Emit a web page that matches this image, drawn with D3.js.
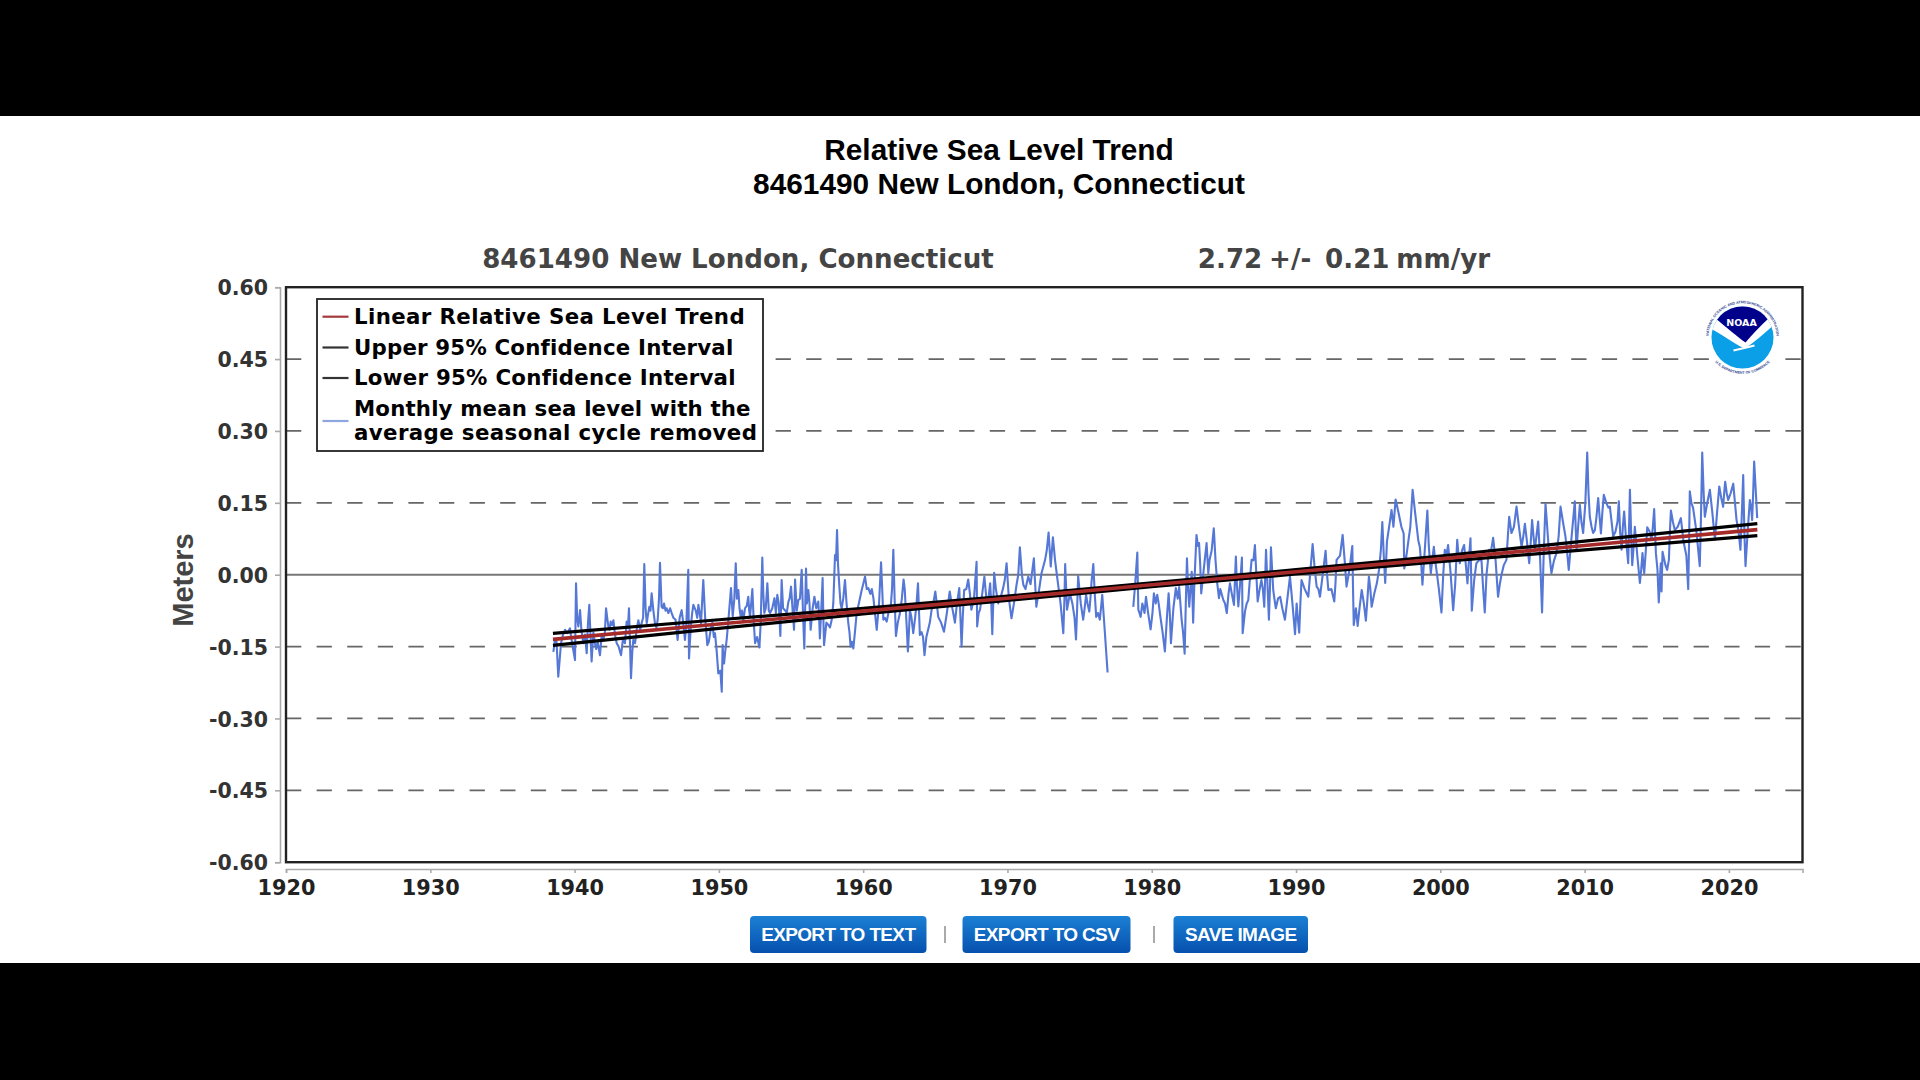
<!DOCTYPE html>
<html>
<head>
<meta charset="utf-8">
<title>Relative Sea Level Trend</title>
<script src="https://cdn.jsdelivr.net/npm/d3@7"></script>
<style>
  html, body { margin: 0; padding: 0; background: #000; }
  svg { display: block; }
  text { font-family: "DejaVu Sans", sans-serif; font-weight: bold; }
</style>
</head>
<body>
<svg id="chart" width="1920" height="1080"></svg>
<script>
// tick labels
const yearTicks = [1920, 1930, 1940, 1950, 1960, 1970, 1980, 1990, 2000, 2010, 2020];
const meterTicks = [0.60, 0.45, 0.30, 0.15, 0.00, -0.15, -0.30, -0.45, -0.60];
const dashedLevels = [0.45, 0.30, 0.15, -0.15, -0.30, -0.45];

// text
const titleLines = ["Relative Sea Level Trend", "8461490 New London, Connecticut"];
const stationName = "8461490 New London, Connecticut";
const stationRate = "2.72 +/-  0.21 mm/yr";
const buttonLabels = ["EXPORT TO TEXT", "EXPORT TO CSV", "SAVE IMAGE"];
const legendLabels = [
  ["Linear Relative Sea Level Trend"],
  ["Upper 95% Confidence Interval"],
  ["Lower 95% Confidence Interval"],
  ["Monthly mean sea level with the", "average seasonal cycle removed"]
];

// trend and confidence interval, read at a few years
const trendYears = [1938.5, 1950, 1960, 1970, 1980, 1990, 2000, 2010, 2021.97];
const trendMean = [-0.135, -0.103, -0.076, -0.049, -0.021, 0.006, 0.033, 0.061, 0.094];
const trendUpper = [-0.1225, -0.094, -0.070, -0.0445, -0.017, 0.0105, 0.039, 0.070, 0.1065];
const trendLower = [-0.1475, -0.112, -0.082, -0.0535, -0.025, 0.0015, 0.027, 0.052, 0.0815];

// monthly mean sea level [year, meters]. null = no data (1977-78)
const monthlyLevel = [
  [1938.53,-.161],[1938.64,-.136],[1938.87,-.213],[1939.06,-.143],[1939.34,-.115],[1939.5,-.122],[1939.68,-.112],[1939.87,-.150],
  [1940.03,-.178],[1940.1,-.018],[1940.26,-.108],[1940.38,-.074],[1940.61,-.143],[1940.84,-.164],[1941.02,-.063],[1941.18,-.181],
  [1941.41,-.143],[1941.6,-.14],[1941.76,-.168],[1941.99,-.136],[1942.18,-.07],[1942.34,-.108],[1942.5,-.098],[1942.69,-.095],
  [1942.92,-.143],[1943.22,-.168],[1943.49,-.143],[1943.61,-.098],[1943.77,-.07],[1943.91,-.216],[1944.07,-.136],[1944.19,-.143],
  [1944.42,-.095],[1944.65,-.101],[1944.83,.022],[1945,-.101],[1945.18,-.067],[1945.34,-.039],[1945.57,-.101],[1945.76,-.094],
  [1945.92,.025],[1946.03,-.067],[1946.38,-.070],[1946.73,-.08],[1947,-.094],[1947.14,-.136],[1947.42,-.074],[1947.65,-.136],
  [1947.88,.01],[1947.93,-.175],[1948.23,-.063],[1948.58,-.063],[1948.76,-.101],[1948.92,-.011],[1949.2,-.147],[1949.43,-.115],
  [1949.73,-.122],[1949.96,-.206],[1950.2,-.244],[1950.26,-.147],[1950.36,-.185],[1950.54,-.136],[1950.84,-.028],[1950.96,-.087],
  [1951.17,.024],[1951.35,-.032],[1951.51,-.087],[1951.81,-.07],[1952.04,-.046],[1952.16,-.087],[1952.32,-.03],[1952.51,-.143],
  [1952.81,-.152],[1953.01,.036],[1953.15,-.08],[1953.36,-.018],[1953.55,-.08],[1953.85,-.049],[1954.05,-.042],[1954.26,-.128],
  [1954.35,-.011],[1954.58,-.074],[1954.82,-.056],[1955,-.025],[1955.21,-.115],[1955.28,-.01],[1955.51,-.053],[1955.74,.01],
  [1955.92,-.154],[1956.04,.013],[1956.2,-.032],[1956.36,-.115],[1956.62,-.046],[1956.89,-.056],[1957,-.133],[1957.19,-.007],
  [1957.29,-.147],[1957.59,-.105],[1957.82,-.094],[1958.05,.041],[1958.19,.093],[1958.35,-.025],[1958.51,-.07],[1958.74,-.011],
  [1958.97,-.101],[1959.13,-.15],[1959.32,-.154],[1959.55,-.08],[1959.9,-.032],[1960.13,-.004],[1960.36,-.028],[1960.71,-.049],
  [1960.94,-.115],[1961.24,.026],[1961.4,-.094],[1961.63,-.098],[1961.91,-.067],[1962.09,.052],[1962.27,-.128],[1962.55,-.08],
  [1962.8,-.01],[1962.95,-.07],[1963.1,-.16],[1963.24,-.074],[1963.47,-.122],[1963.8,-.018],[1963.93,-.126],[1964.25,-.168],
  [1964.5,-.115],[1964.74,-.074],[1965,-.035],[1965.2,-.088],[1965.6,-.119],[1966,-.035],[1966.36,-.1],[1966.66,-.028],
  [1966.82,-.15],[1967,-.032],[1967.28,-.01],[1967.5,-.073],[1967.86,.027],[1967.9,-.108],[1968.1,-.073],[1968.4,-.004],
  [1968.55,-.053],[1968.8,-.018],[1968.95,-.124],[1969.08,.004],[1969.36,-.06],[1969.7,-.028],[1969.94,.024],[1970.28,-.091],
  [1970.63,-.021],[1970.86,.057],[1971.1,-.021],[1971.44,-.004],[1971.83,.034],[1972,-.067],[1972.36,.003],[1972.85,.088],
  [1973,.017],[1973.15,.078],[1973.5,-.018],[1973.87,-.122],[1974,.022],[1974.13,-.073],[1974.33,-.039],[1974.75,-.135],
  [1974.9,-.003],[1975.25,-.094],[1975.45,-.042],[1975.67,-.077],[1975.83,-.014],[1975.95,.022],[1976.15,-.088],[1976.4,-.094],
  [1976.57,-.042],[1976.94,-.204],[1977.5,null],[1978.72,-.067],[1979,.046],[1979.07,-.073],[1979.23,-.088],[1979.6,-.046],
  [1979.92,-.114],[1980.15,-.039],[1980.38,-.042],[1980.6,-.088],[1980.91,-.16],[1981.17,-.039],[1981.33,-.143],[1981.67,-.028],
  [1981.9,-.026],[1982.07,-.094],[1982.28,-.165],[1982.44,.034],[1982.6,-.067],[1982.77,.006],[1982.87,-.1],[1983.1,.083],
  [1983.28,.066],[1983.43,-.039],[1983.8,.066],[1983.92,.003],[1984.3,.097],[1984.54,-.018],[1984.66,-.049],[1984.96,-.053],
  [1985.2,-.08],[1985.42,-.018],[1985.7,-.063],[1985.83,.038],[1986,-.066],[1986.25,.036],[1986.3,-.122],
  [1986.46,-.077],[1986.69,-.053],[1986.92,.031],[1987.15,.062],[1987.34,-.056],[1987.6,-.011],[1987.8,-.067],[1987.92,.052],
  [1988.12,-.094],[1988.26,.057],[1988.42,-.032],[1988.6,-.07],[1988.9,-.046],[1989.23,-.094],[1989.58,-.004],[1989.93,-.124],
  [1990.04,-.06],[1990.22,-.121],[1990.38,-.011],[1990.85,-.046],[1991.15,.064],[1991.43,-.025],[1991.66,-.046],[1992.05,.05],
  [1992.24,-.032],[1992.65,-.056],[1992.81,.031],[1993.23,.083],[1993.5,-.025],[1993.9,.06],[1994,-.105],[1994.27,-.107],
  [1994.55,-.032],[1994.84,-.096],[1995.05,-.004],[1995.24,-.067],[1995.6,-.018],[1995.88,.052],[1995.98,.11],[1996.18,-.017],
  [1996.3,.069],[1996.62,.135],[1996.9,.157],[1997.46,.086],[1997.5,.013],[1997.78,.069],[1998.08,.177],[1998.47,.072],
  [1998.58,.058],[1998.76,-.021],[1999.1,.134],[1999.34,.003],[1999.55,.058],[1999.73,.01],[2000.08,-.079],[2000.31,.052],
  [2000.54,.062],[2000.89,-.074],[2001.17,.073],[2001.35,.024],[2001.65,.062],[2001.88,-.018],[2002.09,.076],[2002.18,-.075],
  [2002.5,.024],[2002.85,.031],[2003.08,-.079],[2003.38,.052],[2003.66,.077],[2004,-.046],[2004.24,.0],[2004.58,.031],
  [2004.77,.121],[2004.93,.087],[2005.28,.142],[2005.63,.058],[2005.86,.106],[2006.16,.024],[2006.36,.114],[2006.55,.052],
  [2006.78,.111],[2007.05,-.079],[2007.29,.148],[2007.7,.003],[2008.05,.045],[2008.33,.142],[2008.67,.08],[2008.9,.01],
  [2009.32,.153],[2009.44,.05],[2009.67,.146],[2009.9,.087],[2010.18,.255],[2010.36,.121],[2010.59,.087],
  [2010.71,.093],[2010.94,.16],[2011.13,.086],[2011.33,.167],[2011.75,.142],[2011.98,.08],[2012.28,.111],[2012.37,.153],
  [2012.56,.052],[2012.74,.132],[2013.02,.024],[2013.14,.177],[2013.3,.02],[2013.48,.1],[2013.83,-.017],[2014.01,.045],
  [2014.13,.003],[2014.34,.099],[2014.64,.073],[2014.82,.137],[2014.94,.045],[2015.14,-.058],[2015.28,.024],[2015.4,.048],
  [2015.33,-.035],[2015.84,.031],[2015.98,.134],[2016.25,.093],[2016.67,.118],[2017.18,-.03],[2017.29,.174],[2017.52,.139],
  [2017.98,.018],[2018.15,.255],[2018.33,.121],[2018.68,.177],[2019.03,.073],[2019.33,.184],[2019.6,.142],[2019.74,.194],
  [2019.95,.156],[2020.3,.19],[2020.53,.114],[2020.8,.052],[2020.99,.208],[2021.15,.018],[2021.45,.156],[2021.61,.114],
  [2021.75,.236],[2021.96,.118],
  // months between the peaks, rougher readings from the dense part of the band
  [1938.75,-.14],[1939.2,-.125],[1939.76,-.13],[1940.18,-.09],[1940.47,-.115],[1940.72,-.125],[1940.93,-.1],[1941.1,-.125],
  [1941.3,-.12],[1941.5,-.155],[1941.88,-.125],[1942.1,-.12],[1942.26,-.09],[1942.42,-.115],[1942.6,-.105],[1942.8,-.125],
  [1943.05,-.15],[1943.35,-.135],[1943.7,-.11],[1944,-.16],[1944.3,-.115],[1944.55,-.115],[1944.75,-.09],[1944.92,-.07],
  [1945.08,-.085],[1945.26,-.075],[1945.46,-.075],[1945.67,-.11],[1945.85,-.05],[1946.12,-.07],[1946.2,-.06],[1946.3,-.075],
  [1946.5,-.08],[1946.62,-.07],[1946.85,-.09],[1947.07,-.115],[1947.28,-.09],[1947.53,-.1],[1947.75,-.1],[1948.05,-.11],
  [1948.15,-.08],[1948.4,-.075],[1948.5,-.09],[1948.67,-.08],[1949.05,-.09],[1949.3,-.14],[1949.55,-.1],[1949.65,-.13],
  [1949.85,-.16],[1950.1,-.2],[1950.3,-.17],[1950.44,-.16],[1950.7,-.08],[1951.07,-.05],[1951.25,-.05],[1951.43,-.07],
  [1951.6,-.075],[1951.7,-.095],[1951.93,-.065],[1952.1,-.075],[1952.24,-.06],[1952.42,-.1],[1952.65,-.13],[1952.9,-.1],
  [1953.08,-.04],[1953.25,-.07],[1953.46,-.075],[1953.7,-.07],[1953.95,-.08],[1954.15,-.06],[1954.45,-.07],[1954.7,-.08],
  [1954.9,-.05],[1955.1,-.07],[1955.4,-.075],[1955.62,-.05],[1955.83,-.08],[1956.1,-.06],[1956.28,-.06],[1956.5,-.07],
  [1956.75,-.07],[1956.95,-.09],[1957.1,-.07],[1957.24,-.09],[1957.45,-.1],[1957.7,-.11],[1957.93,-.06],[1958.12,.03],
  [1958.26,.02],[1958.43,-.06],[1958.62,-.05],[1958.85,-.06],[1959.05,-.12],[1959.22,-.14],[1959.43,-.12],[1959.7,-.06],
  [1960,-.02],[1960.25,-.03],[1960.5,-.04],[1960.6,-.03],[1960.82,-.08],[1961.1,-.06],[1961.32,-.03],[1961.5,-.09],
  [1961.75,-.08],[1962,-.03],[1962.18,-.05],[1962.4,-.1],[1962.68,-.05],[1962.88,-.03],[1963.02,-.11],[1963.17,-.12],
  [1963.35,-.09],[1963.6,-.09],[1963.7,-.06],[1964.05,-.12],[1964.15,-.13],[1964.38,-.13],[1964.62,-.1],[1964.86,-.06],
  [1965.1,-.06],[1965.4,-.1],[1965.8,-.08],[1966.18,-.07],[1966.5,-.06],[1966.73,-.08],[1966.9,-.09],[1967.15,-.03],
  [1967.4,-.04],[1967.68,-.05],[1968,-.08],[1968.25,-.04],[1968.48,-.03],[1968.68,-.05],[1968.88,-.06],[1969.2,-.03],
  [1969.5,-.05],[1969.82,-.01],[1970.1,-.05],[1970.45,-.06],[1970.75,0],[1971,0],[1971.25,-.03],[1971.6,-.02],
  [1971.92,-.02],[1972.2,-.03],[1972.6,.03],[1972.72,.05],[1973.3,.03],[1973.68,-.06],[1973.95,-.05],[1974.07,-.03],
  [1974.5,-.06],[1974.65,-.09],[1974.83,-.07],[1975.08,-.06],[1975.35,-.07],[1975.55,-.06],[1975.75,-.05],[1976.05,-.04],
  [1976.28,-.08],[1976.48,-.07],[1976.75,-.12],[1978.85,-.02],[1979.15,-.08],[1979.35,-.06],[1979.5,-.08],[1979.75,-.08],
  [1980.05,-.08],[1980.28,-.06],[1980.48,-.06],[1980.75,-.12],[1981.05,-.09],[1981.25,-.08],[1981.5,-.07],[1981.8,-.05],
  [1982.17,-.12],[1982.36,-.06],[1982.52,-.03],[1982.68,-.03],[1982.95,-.02],[1983.2,.06],[1983.36,.02],[1983.6,.01],
  [1984,.03],[1984.15,.05],[1984.42,.03],[1984.75,-.03],[1985.08,-.06],[1985.32,-.04],[1985.55,-.04],[1985.9,-.02],
  [1986.12,-.02],[1986.58,-.06],[1986.8,-.01],[1987.05,.03],[1987.25,0],[1987.48,-.03],[1987.7,-.03],[1988.02,-.02],
  [1988.2,-.02],[1988.5,-.05],[1988.75,-.05],[1989.05,-.07],[1989.4,-.05],[1989.75,-.06],[1990.12,-.09],[1990.3,-.06],
  [1990.6,-.03],[1991,.01],[1991.3,.01],[1991.55,-.03],[1991.85,0],[1992.15,0],[1992.45,-.03],[1992.73,-.02],
  [1993.05,.04],[1993.37,.03],[1993.7,.01],[1993.95,-.03],[1994.15,-.07],[1994.4,-.07],[1994.7,-.06],[1994.95,-.05],
  [1995.15,-.03],[1995.42,-.04],[1995.75,.01],[1996.08,.04],[1996.45,.1],[1996.75,.1],[1997.1,.13],[1997.3,.1],
  [1997.65,.04],[1997.92,.1],[1998.25,.13],[1998.68,.02],[1998.92,.05],[1999.2,.06],[1999.44,.03],[1999.64,.03],
  [1999.9,-.03],[2000.2,0],[2000.42,.04],[2000.72,0],[2001.03,-.02],[2001.26,.04],[2001.5,.05],[2001.77,.02],
  [2002,.04],[2002.35,-.01],[2002.67,.03],[2002.97,-.03],[2003.2,0],[2003.52,.05],[2003.83,.03],[2004.12,-.02],
  [2004.4,.02],[2004.68,.08],[2005.1,.1],[2005.45,.1],[2005.75,.08],[2006,.07],[2006.25,.06],[2006.46,.08],
  [2006.66,.08],[2006.92,.03],[2007.17,.05],[2007.5,.06],[2007.88,.03],[2008.2,.08],[2008.5,.11],[2008.78,.05],
  [2009.1,.08],[2009.38,.1],[2009.55,.1],[2009.78,.11],[2010.05,.15],[2010.27,.17],[2010.48,.1],[2010.82,.12],
  [2011.04,.12],[2011.23,.13],[2011.5,.15],[2011.65,.14],[2011.87,.11],[2012.14,.09],[2012.46,.09],[2012.65,.1],
  [2012.88,.07],[2013.08,.1],[2013.22,.09],[2013.4,.06],[2013.65,.04],[2013.92,.01],[2014.07,.02],[2014.24,.05],
  [2014.5,.09],[2014.73,.1],[2014.88,.09],[2015.05,.01],[2015.2,-.02],[2015.6,.02],[2015.72,.01],[2015.91,.09],
  [2016.12,.11],[2016.45,.1],[2016.85,.07],[2017.05,.04],[2017.24,.07],[2017.4,.15],[2017.75,.09],[2018.05,.1],
  [2018.25,.17],[2018.5,.15],[2018.85,.13],[2019.18,.13],[2019.47,.16],[2019.67,.17],[2019.85,.17],[2020.12,.17],
  [2020.42,.15],[2020.67,.09],[2020.9,.13],[2021.07,.09],[2021.3,.09],[2021.54,.14],[2021.68,.17],[2021.87,.17]
].sort((a, b) => a[0] - b[0]);

const svg = d3.select("#chart");

// white page area between the black bars
svg.append("rect").attr("x", 0).attr("y", 116).attr("width", 1920).attr("height", 847).attr("fill", "#fff");

// scales
const x = d3.scaleLinear().domain([1920, 2025.1]).range([286, 1802.5]);
const y = d3.scaleLinear().domain([-0.6, 0.6]).range([862.2, 287.2]);

// titles
svg.selectAll(".title").data(titleLines).enter().append("text")
  .attr("class", "title")
  .attr("x", 999)
  .attr("y", (d, i) => 160 + i * 34)
  .attr("text-anchor", "middle")
  .style("font-family", "'Liberation Sans', sans-serif")
  .style("font-size", "29.8px")
  .attr("fill", "#000")
  .text(d => d);

svg.append("text").attr("x", 738).attr("y", 268).attr("text-anchor", "middle")
  .style("font-size", "26.1px").attr("fill", "#444").text(stationName);
svg.append("text").attr("x", 1344).attr("y", 268).attr("text-anchor", "middle")
  .style("font-size", "26.1px").style("word-spacing", "-2.2px").style("white-space", "pre")
  .attr("fill", "#444").text(stationRate);

// y axis title
svg.append("text")
  .attr("transform", "translate(193,580) rotate(-90)")
  .attr("text-anchor", "middle")
  .style("font-family", "'Liberation Sans', sans-serif")
  .style("font-size", "29px")
  .attr("fill", "#444")
  .text("Meters");

// grey axes, set a little off the frame
const xAxis = d3.axisBottom(x).tickValues(yearTicks).tickFormat(d3.format("d")).tickSize(4).tickPadding(7.5);
const yAxis = d3.axisLeft(y).tickValues(meterTicks).tickFormat(d => d.toFixed(2)).tickSize(5).tickPadding(7);

const gx = svg.append("g").attr("transform", "translate(0,869)").call(xAxis);
const gy = svg.append("g").attr("transform", "translate(280,0)").call(yAxis);
gx.selectAll("path, line").attr("stroke", "#aaa").attr("stroke-width", 1.6);
gy.selectAll("path, line").attr("stroke", "#aaa").attr("stroke-width", 1.6);
gx.selectAll("text").style("font-family", "'DejaVu Sans'").style("font-size", "20.8px").attr("fill", "#222");
gy.selectAll("text").style("font-family", "'DejaVu Sans'").style("font-size", "20.5px").attr("fill", "#333").attr("dy", "0.37em");

// grid lines
svg.selectAll(".level").data(dashedLevels).enter().append("line")
  .attr("class", "level")
  .attr("x1", x(1920)).attr("x2", x.range()[1])
  .attr("y1", d => y(d)).attr("y2", d => y(d))
  .attr("stroke", "#666").attr("stroke-width", 1.8)
  .attr("stroke-dasharray", "15.3 15.3");

svg.append("line")
  .attr("x1", x(1920)).attr("x2", x.range()[1])
  .attr("y1", y(0)).attr("y2", y(0))
  .attr("stroke", "#777").attr("stroke-width", 2);

// monthly series
const levelLine = d3.line()
  .defined(d => d[1] !== null)
  .x(d => x(d[0]))
  .y(d => y(d[1]));

svg.append("path").datum(monthlyLevel)
  .attr("fill", "none").attr("stroke", "#5577d6").attr("stroke-width", 2.1)
  .attr("stroke-linejoin", "round")
  .attr("d", levelLine);

// trend lines
const trendLine = d3.line().x((d, i) => x(trendYears[i])).y(d => y(d));
svg.append("path").datum(trendUpper).attr("fill", "none").attr("stroke", "#000").attr("stroke-width", 3.2).attr("d", trendLine);
svg.append("path").datum(trendLower).attr("fill", "none").attr("stroke", "#000").attr("stroke-width", 3.2).attr("d", trendLine);
svg.append("path").datum(trendMean).attr("fill", "none").attr("stroke", "#a52a2a").attr("stroke-width", 3.6).attr("d", trendLine);

// frame
svg.append("rect")
  .attr("x", x(1920)).attr("y", y(0.6))
  .attr("width", x.range()[1] - x(1920)).attr("height", y(-0.6) - y(0.6))
  .attr("fill", "none").attr("stroke", "#222").attr("stroke-width", 2.4);

// legend
const legend = svg.append("g");
legend.append("rect").attr("x", 317).attr("y", 299).attr("width", 446).attr("height", 152)
  .attr("fill", "#fff").attr("stroke", "#222").attr("stroke-width", 1.8);

const legendColors = ["#a5393b", "#333", "#333", "#8ea6e0"];
const legendRowY = [[323.5], [354.5], [384.5], [415.5, 439.5]];
const legendSwatchY = [316.7, 347.5, 378, 421];
const legendSpacing = [[0.4], [0.2], [0.28], [0.16, 0.4]];

legendLabels.forEach((lines, i) => {
  legend.append("line")
    .attr("x1", 322.5).attr("x2", 348.5)
    .attr("y1", legendSwatchY[i]).attr("y2", legendSwatchY[i])
    .attr("stroke", legendColors[i]).attr("stroke-width", 2.2);
  lines.forEach((line, j) => {
    legend.append("text").attr("x", 354).attr("y", legendRowY[i][j])
      .style("font-size", "21.3px").style("letter-spacing", legendSpacing[i][j] + "px").attr("fill", "#000").text(line);
  });
});

// NOAA seal
const seal = svg.append("g").attr("transform", "translate(1742.5,337.5)");
const defs = svg.append("defs");
defs.append("path").attr("id", "sealTop").attr("d", "M-33,8 A34,34 0 1 1 33,8");
defs.append("path").attr("id", "sealBottom").attr("d", "M-31,20 A37.5,37.5 0 0 0 31,20");
defs.append("clipPath").attr("id", "sealClip").append("circle").attr("r", 31);

seal.append("circle").attr("r", 38).attr("fill", "#fff");
const sealInner = seal.append("g").attr("clip-path", "url(#sealClip)");
sealInner.append("rect").attr("x", -32).attr("y", -32).attr("width", 64).attr("height", 64).attr("fill", "#0a9fe6");
sealInner.append("path").attr("d", "M-34,-10 C-18,-2 -6,8 2,11 C12,5 24,-6 34,-15 L34,-34 L-34,-34 Z").attr("fill", "#fff");
sealInner.append("path").attr("d", "M-28,-20 L-30,-34 L30,-34 L27,-20 C18,-12 10,-3 3,5 C-4,0 -16,-10 -28,-20 Z").attr("fill", "#00008b");
sealInner.append("path").attr("d", "M-9,13 L4,10 L12,8").attr("fill", "none").attr("stroke", "#fff").attr("stroke-width", 2);
sealInner.append("text").attr("x", -1).attr("y", -12).attr("text-anchor", "middle")
  .style("font-size", "9.5px").attr("fill", "#fff").text("NOAA");
seal.append("text").style("font-family", "'Liberation Sans', sans-serif").style("font-size", "3.6px").attr("fill", "#2a3f8f")
  .append("textPath").attr("href", "#sealTop").attr("startOffset", "50%").attr("text-anchor", "middle")
  .text("NATIONAL OCEANIC AND ATMOSPHERIC ADMINISTRATION");
seal.append("text").style("font-family", "'Liberation Sans', sans-serif").style("font-size", "3.6px").attr("fill", "#2a3f8f")
  .append("textPath").attr("href", "#sealBottom").attr("startOffset", "50%").attr("text-anchor", "middle")
  .text("U.S. DEPARTMENT OF COMMERCE");

// export buttons
const grad = defs.append("linearGradient").attr("id", "btn").attr("x1", 0).attr("x2", 0).attr("y1", 0).attr("y2", 1);
grad.append("stop").attr("offset", "0%").attr("stop-color", "#1b80d4");
grad.append("stop").attr("offset", "100%").attr("stop-color", "#0650ae");

const buttonX = [750, 962.5, 1173.5];
const buttonW = [176.5, 168, 134.5];
const dividerX = [945, 1154];

buttonLabels.forEach((label, i) => {
  svg.append("rect").attr("x", buttonX[i]).attr("y", 916).attr("width", buttonW[i]).attr("height", 37)
    .attr("rx", 4).attr("fill", "url(#btn)");
  svg.append("text").attr("x", buttonX[i] + buttonW[i] / 2).attr("y", 941).attr("text-anchor", "middle")
    .style("font-family", "'Liberation Sans', sans-serif").style("font-size", "19px").style("letter-spacing", "-0.65px")
    .attr("fill", "#fff").text(label);
});
dividerX.forEach(dx => {
  svg.append("line").attr("x1", dx).attr("x2", dx).attr("y1", 926).attr("y2", 943)
    .attr("stroke", "#aaa").attr("stroke-width", 2);
});
</script>
</body>
</html>
